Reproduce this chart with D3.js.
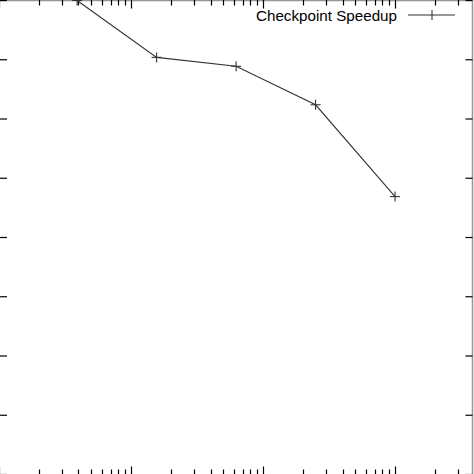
<!DOCTYPE html>
<html><head><meta charset="utf-8">
<script src="https://cdn.jsdelivr.net/npm/d3@7"></script>
<style>html,body{margin:0;padding:0;background:#fff;overflow:hidden}</style>
</head><body>
<svg id="c" width="474" height="474"></svg>
<script>
// Data
const xValues = [3906.25, 15625, 62500, 250000, 1000000];
const speedup = [8.0, 7.04, 6.89, 6.24, 4.69];
const seriesName = "Checkpoint Speedup";
const yTicks = [0, 1, 2, 3, 4, 5, 6, 7, 8];

(function () {
const svg = d3.select("#c");
const pL = -1, pR = 472.5, pT = 0.5, pB = 474.5;
const x = d3.scaleLog().domain([1000, 3.86e6]).range([pL, pR]);
const y = d3.scaleLinear().domain([0, 8]).range([pB, pT]);

// frame (bottom and left edges fall just outside the visible crop)
svg.append("rect").attr("x", pL).attr("y", pT)
  .attr("width", pR - pL).attr("height", pB + 2 - pT)
  .attr("fill", "none").attr("stroke", "#999").attr("stroke-width", 1.6);

// x ticks (log, major + minor)
const xt = [];
for (let e = 3; e <= 6; e++) for (let m = 1; m <= 9; m++) {
  const v = m * Math.pow(10, e);
  if (v >= 1000 && v <= 3.86e6) xt.push({v, major: m === 1});
}
const tg = svg.append("g").attr("stroke", "#000").attr("stroke-width", 1.2);
xt.forEach(t => {
  const px = Math.round(x(t.v)) + 0.5;
  const len = t.major ? 8 : 5;
  tg.append("line").attr("x1", px).attr("x2", px).attr("y1", pB).attr("y2", pB - len);
  tg.append("line").attr("x1", px).attr("x2", px).attr("y1", pT - 0.5).attr("y2", pT + len);
});
// y ticks
yTicks.forEach(v => {
  const py = y(v);
  tg.append("line").attr("x1", 0).attr("x2", 7).attr("y1", py).attr("y2", py);
  tg.append("line").attr("x1", pR).attr("x2", pR - 7).attr("y1", py).attr("y2", py);
});

// series line
const line = d3.line().x((d, i) => x(xValues[i])).y(d => y(d));
svg.append("path").datum(speedup).attr("d", line)
  .attr("fill", "none").attr("stroke", "#333").attr("stroke-width", 1.1);

// markers
const mk = 5;
const mg = svg.append("g").attr("stroke", "#333").attr("stroke-width", 1.1);
speedup.forEach((d, i) => {
  const px = x(xValues[i]), py = y(d);
  mg.append("line").attr("x1", px - mk).attr("x2", px + mk).attr("y1", py).attr("y2", py);
  mg.append("line").attr("x1", px).attr("x2", px).attr("y1", py - mk).attr("y2", py + mk);
});

// legend
svg.append("text").attr("x", 397).attr("y", 20.5).attr("text-anchor", "end")
  .attr("font-family", "Liberation Sans, Arial, sans-serif").attr("font-size", 15.2)
  .attr("fill", "#000").text(seriesName);
const lg = svg.append("g").attr("stroke", "#333").attr("stroke-width", 1.1);
lg.append("line").attr("x1", 408).attr("x2", 455).attr("y1", 15).attr("y2", 15);
lg.append("line").attr("x1", 432).attr("x2", 432).attr("y1", 10).attr("y2", 20);
})();
</script>
</body></html>
